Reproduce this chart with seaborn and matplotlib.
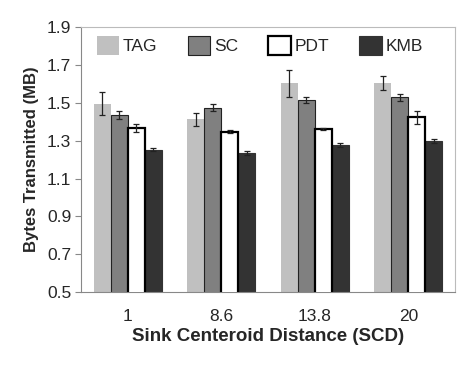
import numpy as np
import pandas as pd
import seaborn as sns
import matplotlib.pyplot as plt

# values
scd = ['1', '8.6', '13.8', '20']
methods = ['TAG', 'SC', 'PDT', 'KMB']
tag = [1.495, 1.413, 1.603, 1.603]
sc = [1.435, 1.473, 1.515, 1.528]
pdt = [1.368, 1.347, 1.360, 1.423]
kmb = [1.252, 1.235, 1.277, 1.300]
tag_err = [0.060, 0.033, 0.072, 0.038]
sc_err = [0.020, 0.018, 0.018, 0.020]
pdt_err = [0.020, 0.008, 0.005, 0.035]
kmb_err = [0.008, 0.010, 0.013, 0.010]

df = pd.DataFrame({
    'SCD': scd * 4,
    'Method': np.repeat(methods, 4),
    'MB': tag + sc + pdt + kmb,
    'err': tag_err + sc_err + pdt_err + kmb_err,
})

sns.set_style('white')
plt.rcParams['font.family'] = ['Liberation Sans', 'DejaVu Sans']

fig = plt.figure(figsize=(4.74, 3.66), dpi=100)
ax = fig.add_axes([0.171, 0.202, 0.789, 0.724])

colors = ['#c0c0c0', '#808080', '#ffffff', '#333333']
edges = ['none', '#222222', '#000000', '#333333']
widths = [0, 0.8, 1.6, 0.8]
sns.barplot(data=df, x='SCD', y='MB', hue='Method', order=scd, hue_order=methods,
            palette=colors, width=0.73, errorbar=None, ax=ax, saturation=1)

# edges per series; PDT outline drawn on top of its neighbours
for i, (bars, ec, lw) in enumerate(zip(ax.containers, edges, widths)):
    for b in bars:
        b.set_edgecolor(ec)
        b.set_linewidth(lw)
        if methods[i] == 'PDT':
            b.set_zorder(3)

# error bars at bar centres
for bars, m in zip(ax.containers, methods):
    sub = df[df['Method'] == m]
    xs = [b.get_x() + b.get_width() / 2 for b in bars]
    ax.errorbar(xs, sub['MB'], yerr=sub['err'], fmt='none', ecolor='#222222',
                elinewidth=0.9, capsize=2.2, capthick=0.9, zorder=5)

ax.set_ylim(0.5, 1.9)
ax.set_yticks(np.arange(0.5, 1.91, 0.2))
ax.set_yticklabels(['0.5', '0.7', '0.9', '1.1', '1.3', '1.5', '1.7', '1.9'])
ax.set_xlim(-0.5, 3.5)
ax.set_xticks([-0.5, 0.5, 1.5, 2.5, 3.5], minor=True)
ax.tick_params(axis='x', which='major', length=0, labelsize=12.5, pad=12)
ax.tick_params(axis='x', which='minor', length=4, color='#888888', direction='out')
ax.tick_params(axis='y', length=4, color='#888888', direction='out', labelsize=12.5,
               left=True, pad=3)

for s in ax.spines.values():
    s.set_color('#bbbbbb')
    s.set_linewidth(0.8)
ax.spines['left'].set_color('#888888')
ax.spines['bottom'].set_color('#888888')

ax.set_xlabel('Sink Centeroid Distance (SCD)', fontsize=13.5, fontweight='bold', labelpad=3)
ax.set_ylabel('Bytes Transmitted (MB)', fontsize=12, fontweight='bold', labelpad=6)

leg = ax.legend(loc='center', bbox_to_anchor=(0.478, 0.93), ncol=4, frameon=False,
                fontsize=12.5, handlelength=1.3, handleheight=1.3, columnspacing=1.75,
                handletextpad=0.2)
for h, ec, lw in zip(leg.legend_handles, edges, widths):
    h.set_edgecolor(ec)
    h.set_linewidth(lw)

fig.savefig('out.png', dpi=100)
